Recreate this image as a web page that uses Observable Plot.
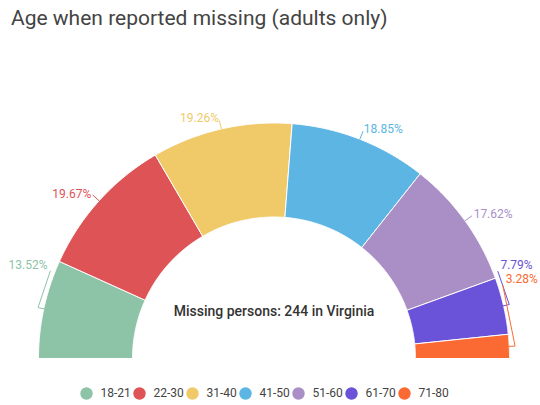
<!DOCTYPE html>
<html>
<head>
<meta charset="utf-8">
<script src="https://cdn.jsdelivr.net/npm/d3@7"></script>
<script src="https://cdn.jsdelivr.net/npm/@observablehq/plot@0.6"></script>
<style>
  html, body { margin: 0; padding: 0; background: #fff; width: 540px; height: 405px; overflow: hidden; }
  #title { font-family: Roboto, sans-serif; font-size: 21px; line-height: 25px; color: #444; padding: 6px 0 0 11px; height: 39px; }
  svg { display: block; }
</style>
</head>
<body>
<div id="title">Age when reported missing (adults only)</div>
<div id="chart"></div>
<div id="legend"></div>
<script>
const categories = ["18-21", "22-30", "31-40", "41-50", "51-60", "61-70", "71-80"];
const shares = [13.52, 19.67, 19.26, 18.85, 17.62, 7.79, 3.28];
const colors = ["#8dc3a6", "#dd5356", "#f0ca69", "#5db5e4", "#a98fc6", "#6a52d9", "#fc6a33"];
const centerLabel = "Missing persons: 244 in Virginia";

const inner = 141.5 / 235.5;
const deg = Math.PI / 180;
const total = d3.sum(shares);
const angleAt = t => Math.PI * (1 - t / total);
const cum = d3.cumsum(shares);

const slices = categories.map((cat, i) => {
  const a0 = angleAt(cum[i] - shares[i]);
  const a1 = angleAt(cum[i]);
  return {cat, share: shares[i], color: colors[i], a0, a1, mid: (a0 + a1) / 2};
});

// polygon points for each slice
const pts = [];
for (const s of slices) {
  const n = 80;
  const ring = [];
  for (let k = 0; k <= n; k++) { const a = s.a0 + (s.a1 - s.a0) * k / n; ring.push([Math.cos(a), Math.sin(a)]); }
  for (let k = n; k >= 0; k--) { const a = s.a0 + (s.a1 - s.a0) * k / n; ring.push([inner * Math.cos(a), inner * Math.sin(a)]); }
  ring.push(ring[0]);
  ring.forEach(([x, y]) => pts.push({cat: s.cat, x, y}));
}

// labels
const pol = (r, a) => [r * Math.cos(a), r * Math.sin(a)];
const labels = [];
const leaders = [];
const rl = 1.045;
let prevRightY = null;
for (const s of slices) {
  const txt = s.share.toFixed(2) + "%";
  const small = s.share < 15;
  if (!small) {
    const [x, y] = pol(rl, s.mid);
    labels.push({x, y, txt, cat: s.cat, anchor: x < 0 ? "end" : "start"});
    [[1.0, s.mid], [1.035, s.mid]].forEach(([r, a]) => { const [px, py] = pol(r, a); leaders.push({cat: s.cat, x: px, y: py}); });
  } else {
    const upper = Math.abs(s.a0 - Math.PI / 2) < Math.abs(s.a1 - Math.PI / 2) ? s.a0 : s.a1;
    const left = s.mid > Math.PI / 2;
    let la;
    if (left) {
      la = upper + 2 * deg;
    } else {
      la = upper + 2.5 * deg;
      if (prevRightY !== null) {
        const yy = prevRightY - 14 / 235.5;
        la = Math.asin(yy / 1.04);
      }
      prevRightY = Math.sin(la) * 1.04;
    }
    const [x, y] = pol(1.04, la);
    labels.push({x, y, txt, cat: s.cat, anchor: left ? "end" : "start"});
    const startA = left ? la + 1 * deg : la - 1.2 * deg;
    [[1.02, startA], [1.025, s.mid], [0.998, s.mid]].forEach(([r, a]) => { const [px, py] = pol(r, a); leaders.push({cat: s.cat, x: px, y: py}); });
  }
}

const color = {domain: categories, range: colors};

const chart = Plot.plot({
  width: 540,
  height: 338,
  margin: 0,
  x: {domain: [-1, 1], range: [38, 509], axis: null},
  y: {domain: [0, 1], range: [313, 77.5], axis: null},
  color,
  style: {fontFamily: "Roboto, sans-serif", background: "#fff"},
  marks: [
    Plot.line(pts, {x: "x", y: "y", z: "cat", fill: "cat", stroke: "#ffffff", strokeWidth: 1}),
    Plot.line(leaders, {x: "x", y: "y", z: "cat", stroke: "cat", strokeWidth: 1}),
    Plot.text(labels.filter(d => d.anchor === "end"), {x: "x", y: "y", text: "txt", fill: "cat", textAnchor: "end", fontSize: 12}),
    Plot.text(labels.filter(d => d.anchor === "start"), {x: "x", y: "y", text: "txt", fill: "cat", textAnchor: "start", fontSize: 12}),
    Plot.text([centerLabel], {x: () => 0, y: () => 0.2, text: d => d, fill: "#333", fontSize: 14, fontWeight: 500})
  ]
});
document.getElementById("chart").appendChild(chart);

const legend = Plot.plot({
  width: 540,
  height: 20,
  margin: 0,
  x: {type: "point", domain: categories, range: [84, 405], padding: 0, axis: null},
  color,
  style: {fontFamily: "Roboto, sans-serif", background: "#fff"},
  marks: [
    Plot.dot(categories, {x: d => d, fill: d => d, r: 6.2}),
    Plot.text(categories, {x: d => d, text: d => d, dx: 14, textAnchor: "start", fill: "#444", fontSize: 12})
  ]
});
document.getElementById("legend").appendChild(legend);
</script>
</body>
</html>
